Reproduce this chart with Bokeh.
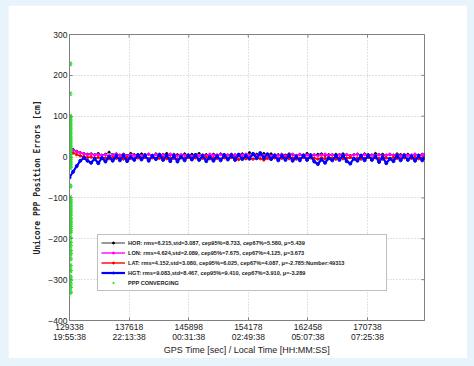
import math
from bokeh.plotting import figure
from bokeh.models import Range1d, FixedTicker, Legend, LegendItem
from bokeh.embed import file_html
from bokeh.resources import INLINE

# ---------------- data ----------------
epoch_start = 129338          # GPS seconds of first epoch
n_epochs = 49313              # "Number:49313"
# sampled epochs (seconds after start)
t_sec = list(range(0, 49001, 500)) + [49313]

hor = [24, 19, 14, 11, 9, 7, 8, 6, 9, 5,
       7, 12, 6, 8, 5, 7, 4, 9, 6, 5,
       8, 6, 7, 4, 8, 5, 6, 9, 5, 7,
       6, 4, 8, 5, 7, 6, 9, 5, 6, 4,
       7, 5, 8, 6, 5, 7, 4, 6, 8, 5,
       11, 6, 7, 5, 9, 6, 8, 4, 6, 7,
       5, 8, 6, 4, 7, 5, 9, 6, 5, 7,
       8, 4, 6, 5, 7, 6, 8, 5, 4, 6,
       7, 5, 8, 6, 5, 9, 6, 7, 4, 6,
       5, 8, 6, 5, 7, 4, 6, 5, 7, 6]

lon = [21, 17, 13, 10, 8, 6, 7, 5, 6, 4,
       6, 3, 5, 7, 4, 6, 3, 5, 4, 6,
       3, 5, 7, 4, 6, 3, 5, 4, 7, 5,
       3, 6, 4, 5, 2, 6, 4, 5, 3, 7,
       4, 5, 6, 3, 5, 4, 6, 3, 5, 7,
       4, 6, 3, 5, 4, 6, 2, 5, 4, 6,
       3, 5, 7, 4, 6, 3, 5, 4, 6, 3,
       5, 7, 4, 6, 3, 5, 4, 6, 3, 5,
       7, 4, 6, 3, 5, 4, 6, 3, 5, 7,
       4, 5, 3, 6, 4, 5, 7, 4, 6, 5]

lat = [14, 10, 6, 3, 1, -1, 0, -2, -1, -3,
       -2, -4, -1, -3, -2, -5, -1, -3, -4, -2,
       -3, -1, -4, -2, -5, -3, -1, -4, -2, -3,
       -5, -2, -3, -1, -4, -2, -6, -3, -1, -4,
       -2, -3, -5, -2, -4, -1, -3, -6, -2, -4,
       -3, -5, -2, -4, -7, -3, -5, -2, -4, -3,
       -1, -4, -2, -5, -3, -1, -4, -2, -3, -5,
       -2, -4, -1, -3, -5, -2, -4, -3, -1, -4,
       -2, -5, -3, -1, -4, -2, -3, -5, -2, -4,
       -1, -3, -4, -2, -5, -3, -1, -4, -2, -3]

hgt = [-50, -36, -22, -9, -2, -9, -14, -4, -15, -2,
       -11, 1, -9, 3, -8, 4, -10, 0, -7, 5,
       -6, 4, -9, 3, -5, 6, -7, 4, -10, 3,
       -11, 1, -8, 4, -6, 5, -7, 3, -10, 0,
       -9, 2, -8, 5, -6, 4, -7, 6, -5, 3,
       -4, 8, -3, 10, -2, 7, -5, 4, -8, 3,
       -7, 4, -9, 1, -8, 4, -7, 3, -11, -17,
       -6, -14, -3, -8, 3, -7, 4, -10, -16, -4,
       -9, 3, -8, 4, -7, 2, -12, 0, -15, -4,
       -10, 3, -8, 4, -7, 2, -9, 3, -8, -2]

# PPP converging epochs (consecutive first seconds) and their errors [cm]
conv_err = [228, 155, 100, 97, 93, 90, 86, 82, 78, 74,
            70, 66, 62, 58, 54, 50, 46, 42, 38, 34,
            30, 26, 22, 18, 14, 10, 6, 2, -2, -6,
            -10, -14, -18, -22, -26, -71, -99, -104, -108, -112,
            -117, -121, -125, -130, -134, -139, -143, -148, -152, -157,
            -161, -166, -170, -175, -180, -184, -197, -209, -217, -229,
            -237, -249, -266, -278, -293, -302, -310, -319, -331]
conv_sec = list(range(len(conv_err)))

gps_ticks = [129338, 137618, 145898, 154178, 162458, 170738]
local_times = ["19:55:38", "22:13:38", "00:31:38", "02:49:38", "05:07:38", "07:25:38"]
y_ticks = [-400, -300, -200, -100, 0, 100, 200, 300]

labels = [
    "HOR: rms=6.215,std=3.087, cep95%=8.733, cep67%=5.580, \u03bc=5.439",
    "LON: rms=4.624,std=2.089, cep95%=7.675, cep67%=4.125, \u03bc=3.673",
    "LAT: rms=4.152,std=3.080, cep95%=6.025, cep67%=4.087, \u03bc=-2.785:Number:49313",
    "HGT: rms=9.083,std=8.467, cep95%=9.410, cep67%=3.910, \u03bc=-3.289",
    "PPP CONVERGING",
]
colors = ["#000000", "#ff00ff", "#ff0000", "#0000ff"]
widths = [0.8, 1.4, 1.4, 2.2]
dot_sizes = [2.0, 2.4, 2.4, 3.0]

# ---------------- figure ----------------
x = [epoch_start + s for s in t_sec]
gx = [epoch_start + s for s in conv_sec]
x_end = epoch_start + n_epochs

p = figure(width=459, height=353, output_backend="svg", toolbar_location=None,
           x_range=Range1d(epoch_start, x_end),
           y_range=Range1d(y_ticks[0], y_ticks[-1]),
           min_border_left=61, min_border_right=43, min_border_top=29, min_border_bottom=38,
           margin=(5, 0, 0, 8))
p.background_fill_color = "white"
p.border_fill_color = "white"
p.outline_line_color = "#808080"

AX = "#808080"
TXT = "#222222"

p.xaxis.ticker = FixedTicker(ticks=gps_ticks)
p.xaxis.major_label_overrides = {t: f"{t}\n{lt}" for t, lt in zip(gps_ticks, local_times)}
p.yaxis.ticker = FixedTicker(ticks=y_ticks)
for ax in (p.xaxis[0], p.yaxis[0]):
    ax.major_tick_in = 3
    ax.major_tick_out = 0
    ax.minor_tick_line_color = None
    ax.axis_line_color = AX
    ax.major_tick_line_color = AX
    ax.major_label_text_font = "Liberation Sans"
    ax.major_label_text_font_size = "8.5px"
    ax.major_label_text_color = TXT
    ax.major_label_text_line_height = 1.0
    ax.major_label_standoff = 2
p.xaxis.major_label_standoff = 1

p.xaxis.axis_label = "GPS Time [sec] / Local Time [HH:MM:SS]"
p.xaxis.axis_label_text_font = "Liberation Sans"
p.xaxis.axis_label_text_font_size = "9px"
p.xaxis.axis_label_text_font_style = "normal"
p.xaxis.axis_label_text_color = TXT
p.xaxis.axis_label_text_line_height = 1.0
p.xaxis.axis_label_standoff = 0

p.yaxis.axis_label = "Unicore PPP Position Errors [cm]"
p.yaxis.axis_label_text_font = "DejaVu Sans Mono"
p.yaxis.axis_label_text_font_size = "8px"
p.yaxis.axis_label_text_font_style = "bold"
p.yaxis.axis_label_text_color = TXT
p.yaxis.axis_label_standoff = 3

p.xgrid.ticker = FixedTicker(ticks=gps_ticks)
p.ygrid.ticker = FixedTicker(ticks=y_ticks)
p.grid.grid_line_color = "#c4c4c4"
p.grid.grid_line_dash = "1 2"
p.grid.grid_line_width = 1

# inward box ticks on top and right edges (half of each dash clipped by the frame)
p.scatter(gps_ticks, [y_ticks[-1]] * len(gps_ticks), marker="dash", size=6,
          angle=math.pi / 2, line_color=AX, line_width=1)
p.scatter([x_end] * len(y_ticks), y_ticks, marker="dash", size=6,
          line_color=AX, line_width=1)

items = []
for ys, c, w, s, lab in zip([hor, lon, lat, hgt], colors, widths, dot_sizes, labels[:4]):
    lr = p.line(x, ys, line_color=c, line_width=w)
    dr = p.scatter(x, ys, marker="circle", size=s, fill_color=c, line_color=c)
    items.append(LegendItem(label=lab, renderers=[lr, dr]))

gr = p.scatter(gx, conv_err, marker="asterisk", size=6, line_color="#2edc2e", line_width=1.2)
items.append(LegendItem(label=labels[4], renderers=[gr]))

legend = Legend(items=items, location=(28, 29))
legend.label_text_font = "Liberation Sans"
legend.label_text_font_style = "bold"
legend.label_text_font_size = "5.6px"
legend.label_text_color = TXT
legend.label_height = 9
legend.label_width = 255
legend.glyph_height = 5
legend.glyph_width = 24
legend.label_standoff = 3
legend.spacing = 1
legend.padding = 3
legend.margin = 0
legend.border_line_color = "#808080"
legend.background_fill_color = "white"
legend.background_fill_alpha = 1
p.add_layout(legend)

html = file_html(p, INLINE)
html = html.replace("</head>", "<style>html, body { background-color: #e8f4fb; }</style></head>", 1)
open("out.html", "w").write(html)
